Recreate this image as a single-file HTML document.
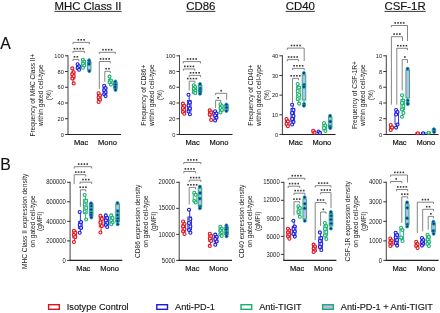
<!DOCTYPE html>
<html><head><meta charset="utf-8"><style>
html,body{margin:0;padding:0;background:#fff;width:440px;height:313px;overflow:hidden}
svg{display:block;will-change:transform}
text{font-family:"Liberation Sans",sans-serif;fill:#1a1a1a} .b{stroke:#111;stroke-width:0.18px;fill:#111}
</style></head><body>
<svg width="440" height="313" viewBox="0 0 440 313">
<text x="88.00" y="9.70" font-size="11.4" text-anchor="middle" class="b" style="stroke-width:0.15px">MHC Class II</text>
<line x1="54.43" y1="11.40" x2="121.57" y2="11.40" stroke="#222" stroke-width="0.9" />
<text x="200.85" y="9.70" font-size="11.4" text-anchor="middle" class="b" style="stroke-width:0.15px">CD86</text>
<line x1="186.28" y1="11.40" x2="215.42" y2="11.40" stroke="#222" stroke-width="0.9" />
<text x="300.25" y="9.70" font-size="11.4" text-anchor="middle" class="b" style="stroke-width:0.15px">CD40</text>
<line x1="285.68" y1="11.40" x2="314.82" y2="11.40" stroke="#222" stroke-width="0.9" />
<text x="405.10" y="9.70" font-size="11.4" text-anchor="middle" class="b" style="stroke-width:0.15px">CSF-1R</text>
<line x1="384.52" y1="11.40" x2="425.68" y2="11.40" stroke="#222" stroke-width="0.9" />
<text x="0.20" y="48.70" font-size="15.8" text-anchor="start" class="b" style="stroke-width:0.15px">A</text>
<text x="0.20" y="169.60" font-size="15.8" text-anchor="start" class="b" style="stroke-width:0.15px">B</text>
<line x1="68.00" y1="55.30" x2="68.00" y2="134.95" stroke="#4a4a4a" stroke-width="1.05" />
<line x1="67.50" y1="134.45" x2="121.00" y2="134.45" stroke="#222" stroke-width="1.1" />
<line x1="65.00" y1="134.45" x2="68.00" y2="134.45" stroke="#333" stroke-width="1.0" />
<text x="63.80" y="136.60" font-size="6.215000000000001" text-anchor="end" textLength="3.14" lengthAdjust="spacingAndGlyphs">0</text>
<line x1="65.00" y1="118.72" x2="68.00" y2="118.72" stroke="#333" stroke-width="1.0" />
<text x="63.80" y="120.87" font-size="6.215000000000001" text-anchor="end" textLength="6.29" lengthAdjust="spacingAndGlyphs">20</text>
<line x1="65.00" y1="102.99" x2="68.00" y2="102.99" stroke="#333" stroke-width="1.0" />
<text x="63.80" y="105.14" font-size="6.215000000000001" text-anchor="end" textLength="6.29" lengthAdjust="spacingAndGlyphs">40</text>
<line x1="65.00" y1="87.26" x2="68.00" y2="87.26" stroke="#333" stroke-width="1.0" />
<text x="63.80" y="89.41" font-size="6.215000000000001" text-anchor="end" textLength="6.29" lengthAdjust="spacingAndGlyphs">60</text>
<line x1="65.00" y1="71.53" x2="68.00" y2="71.53" stroke="#333" stroke-width="1.0" />
<text x="63.80" y="73.68" font-size="6.215000000000001" text-anchor="end" textLength="6.29" lengthAdjust="spacingAndGlyphs">80</text>
<line x1="65.00" y1="55.80" x2="68.00" y2="55.80" stroke="#333" stroke-width="1.0" />
<text x="63.80" y="57.95" font-size="6.215000000000001" text-anchor="end" textLength="9.43" lengthAdjust="spacingAndGlyphs">100</text>
<text x="35.45" y="95.12" font-size="6.6" text-anchor="middle" transform="rotate(-90 35.45 95.12)">Frequency of MHC Class II+</text>
<text x="43.25" y="95.12" font-size="6.6" text-anchor="middle" transform="rotate(-90 43.25 95.12)">within gated cell-type</text>
<text x="51.05" y="95.12" font-size="6.6" text-anchor="middle" transform="rotate(-90 51.05 95.12)">(%)</text>
<text x="81.20" y="145.25" font-size="7.5" text-anchor="middle" class="b">Mac</text>
<text x="107.50" y="145.25" font-size="7.5" text-anchor="middle" class="b">Mono</text>
<line x1="179.50" y1="55.30" x2="179.50" y2="134.95" stroke="#4a4a4a" stroke-width="1.05" />
<line x1="179.00" y1="134.45" x2="232.50" y2="134.45" stroke="#222" stroke-width="1.1" />
<line x1="176.50" y1="134.45" x2="179.50" y2="134.45" stroke="#333" stroke-width="1.0" />
<text x="175.30" y="136.60" font-size="6.215000000000001" text-anchor="end" textLength="3.14" lengthAdjust="spacingAndGlyphs">0</text>
<line x1="176.50" y1="118.72" x2="179.50" y2="118.72" stroke="#333" stroke-width="1.0" />
<text x="175.30" y="120.87" font-size="6.215000000000001" text-anchor="end" textLength="6.29" lengthAdjust="spacingAndGlyphs">20</text>
<line x1="176.50" y1="102.99" x2="179.50" y2="102.99" stroke="#333" stroke-width="1.0" />
<text x="175.30" y="105.14" font-size="6.215000000000001" text-anchor="end" textLength="6.29" lengthAdjust="spacingAndGlyphs">40</text>
<line x1="176.50" y1="87.26" x2="179.50" y2="87.26" stroke="#333" stroke-width="1.0" />
<text x="175.30" y="89.41" font-size="6.215000000000001" text-anchor="end" textLength="6.29" lengthAdjust="spacingAndGlyphs">60</text>
<line x1="176.50" y1="71.53" x2="179.50" y2="71.53" stroke="#333" stroke-width="1.0" />
<text x="175.30" y="73.68" font-size="6.215000000000001" text-anchor="end" textLength="6.29" lengthAdjust="spacingAndGlyphs">80</text>
<line x1="176.50" y1="55.80" x2="179.50" y2="55.80" stroke="#333" stroke-width="1.0" />
<text x="175.30" y="57.95" font-size="6.215000000000001" text-anchor="end" textLength="9.43" lengthAdjust="spacingAndGlyphs">100</text>
<text x="146.40" y="95.12" font-size="6.6" text-anchor="middle" transform="rotate(-90 146.40 95.12)">Frequency of CD86+</text>
<text x="154.20" y="95.12" font-size="6.6" text-anchor="middle" transform="rotate(-90 154.20 95.12)">within gated cell-type</text>
<text x="162.00" y="95.12" font-size="6.6" text-anchor="middle" transform="rotate(-90 162.00 95.12)">(%)</text>
<text x="192.70" y="145.25" font-size="7.5" text-anchor="middle" class="b">Mac</text>
<text x="219.00" y="145.25" font-size="7.5" text-anchor="middle" class="b">Mono</text>
<line x1="282.40" y1="55.30" x2="282.40" y2="134.95" stroke="#4a4a4a" stroke-width="1.05" />
<line x1="281.90" y1="134.45" x2="335.60" y2="134.45" stroke="#222" stroke-width="1.1" />
<line x1="279.40" y1="134.45" x2="282.40" y2="134.45" stroke="#333" stroke-width="1.0" />
<text x="278.20" y="136.60" font-size="6.215000000000001" text-anchor="end" textLength="3.14" lengthAdjust="spacingAndGlyphs">0</text>
<line x1="279.40" y1="114.79" x2="282.40" y2="114.79" stroke="#333" stroke-width="1.0" />
<text x="278.20" y="116.94" font-size="6.215000000000001" text-anchor="end" textLength="6.29" lengthAdjust="spacingAndGlyphs">10</text>
<line x1="279.40" y1="95.12" x2="282.40" y2="95.12" stroke="#333" stroke-width="1.0" />
<text x="278.20" y="97.28" font-size="6.215000000000001" text-anchor="end" textLength="6.29" lengthAdjust="spacingAndGlyphs">20</text>
<line x1="279.40" y1="75.46" x2="282.40" y2="75.46" stroke="#333" stroke-width="1.0" />
<text x="278.20" y="77.61" font-size="6.215000000000001" text-anchor="end" textLength="6.29" lengthAdjust="spacingAndGlyphs">30</text>
<line x1="279.40" y1="55.80" x2="282.40" y2="55.80" stroke="#333" stroke-width="1.0" />
<text x="278.20" y="57.95" font-size="6.215000000000001" text-anchor="end" textLength="6.29" lengthAdjust="spacingAndGlyphs">40</text>
<text x="253.00" y="95.12" font-size="6.6" text-anchor="middle" transform="rotate(-90 253.00 95.12)">Frequency of CD40+</text>
<text x="260.80" y="95.12" font-size="6.6" text-anchor="middle" transform="rotate(-90 260.80 95.12)">within gated cell-type</text>
<text x="268.60" y="95.12" font-size="6.6" text-anchor="middle" transform="rotate(-90 268.60 95.12)">(%)</text>
<text x="295.60" y="145.25" font-size="7.5" text-anchor="middle" class="b">Mac</text>
<text x="321.90" y="145.25" font-size="7.5" text-anchor="middle" class="b">Mono</text>
<line x1="386.30" y1="55.30" x2="386.30" y2="134.95" stroke="#4a4a4a" stroke-width="1.05" />
<line x1="385.80" y1="134.45" x2="438.60" y2="134.45" stroke="#222" stroke-width="1.1" />
<line x1="383.30" y1="134.45" x2="386.30" y2="134.45" stroke="#333" stroke-width="1.0" />
<text x="382.10" y="136.60" font-size="6.215000000000001" text-anchor="end" textLength="3.14" lengthAdjust="spacingAndGlyphs">0</text>
<line x1="383.30" y1="118.72" x2="386.30" y2="118.72" stroke="#333" stroke-width="1.0" />
<text x="382.10" y="120.87" font-size="6.215000000000001" text-anchor="end" textLength="3.14" lengthAdjust="spacingAndGlyphs">2</text>
<line x1="383.30" y1="102.99" x2="386.30" y2="102.99" stroke="#333" stroke-width="1.0" />
<text x="382.10" y="105.14" font-size="6.215000000000001" text-anchor="end" textLength="3.14" lengthAdjust="spacingAndGlyphs">4</text>
<line x1="383.30" y1="87.26" x2="386.30" y2="87.26" stroke="#333" stroke-width="1.0" />
<text x="382.10" y="89.41" font-size="6.215000000000001" text-anchor="end" textLength="3.14" lengthAdjust="spacingAndGlyphs">6</text>
<line x1="383.30" y1="71.53" x2="386.30" y2="71.53" stroke="#333" stroke-width="1.0" />
<text x="382.10" y="73.68" font-size="6.215000000000001" text-anchor="end" textLength="3.14" lengthAdjust="spacingAndGlyphs">8</text>
<line x1="383.30" y1="55.80" x2="386.30" y2="55.80" stroke="#333" stroke-width="1.0" />
<text x="382.10" y="57.95" font-size="6.215000000000001" text-anchor="end" textLength="6.29" lengthAdjust="spacingAndGlyphs">10</text>
<text x="357.30" y="95.12" font-size="6.6" text-anchor="middle" transform="rotate(-90 357.30 95.12)">Frequency of CSF-1R+</text>
<text x="365.10" y="95.12" font-size="6.6" text-anchor="middle" transform="rotate(-90 365.10 95.12)">within gated cell-type</text>
<text x="372.90" y="95.12" font-size="6.6" text-anchor="middle" transform="rotate(-90 372.90 95.12)">(%)</text>
<text x="399.50" y="145.25" font-size="7.5" text-anchor="middle" class="b">Mac</text>
<text x="425.80" y="145.25" font-size="7.5" text-anchor="middle" class="b">Mono</text>
<line x1="70.10" y1="181.80" x2="70.10" y2="260.90" stroke="#4a4a4a" stroke-width="1.05" />
<line x1="69.60" y1="260.40" x2="122.30" y2="260.40" stroke="#222" stroke-width="1.1" />
<line x1="67.10" y1="260.40" x2="70.10" y2="260.40" stroke="#333" stroke-width="1.0" />
<text x="65.90" y="262.55" font-size="6.490000000000001" text-anchor="end" textLength="3.28" lengthAdjust="spacingAndGlyphs">0</text>
<line x1="67.10" y1="240.88" x2="70.10" y2="240.88" stroke="#333" stroke-width="1.0" />
<text x="65.90" y="243.03" font-size="6.490000000000001" text-anchor="end" textLength="19.69" lengthAdjust="spacingAndGlyphs">200000</text>
<line x1="67.10" y1="221.35" x2="70.10" y2="221.35" stroke="#333" stroke-width="1.0" />
<text x="65.90" y="223.50" font-size="6.490000000000001" text-anchor="end" textLength="19.69" lengthAdjust="spacingAndGlyphs">400000</text>
<line x1="67.10" y1="201.82" x2="70.10" y2="201.82" stroke="#333" stroke-width="1.0" />
<text x="65.90" y="203.97" font-size="6.490000000000001" text-anchor="end" textLength="19.69" lengthAdjust="spacingAndGlyphs">600000</text>
<line x1="67.10" y1="182.30" x2="70.10" y2="182.30" stroke="#333" stroke-width="1.0" />
<text x="65.90" y="184.45" font-size="6.490000000000001" text-anchor="end" textLength="19.69" lengthAdjust="spacingAndGlyphs">800000</text>
<text x="26.80" y="221.35" font-size="6.6" text-anchor="middle" transform="rotate(-90 26.80 221.35)">MHC Class II expression density</text>
<text x="34.60" y="221.35" font-size="6.6" text-anchor="middle" transform="rotate(-90 34.60 221.35)">on gated cell-type</text>
<text x="42.40" y="221.35" font-size="6.6" text-anchor="middle" transform="rotate(-90 42.40 221.35)">(gMFI)</text>
<text x="83.30" y="271.20" font-size="7.5" text-anchor="middle" class="b">Mac</text>
<text x="109.60" y="271.20" font-size="7.5" text-anchor="middle" class="b">Mono</text>
<line x1="179.20" y1="181.80" x2="179.20" y2="260.90" stroke="#4a4a4a" stroke-width="1.05" />
<line x1="178.70" y1="260.40" x2="232.00" y2="260.40" stroke="#222" stroke-width="1.1" />
<line x1="176.20" y1="260.40" x2="179.20" y2="260.40" stroke="#333" stroke-width="1.0" />
<text x="175.00" y="262.55" font-size="6.490000000000001" text-anchor="end" textLength="13.13" lengthAdjust="spacingAndGlyphs">5000</text>
<line x1="176.20" y1="234.37" x2="179.20" y2="234.37" stroke="#333" stroke-width="1.0" />
<text x="175.00" y="236.52" font-size="6.490000000000001" text-anchor="end" textLength="16.41" lengthAdjust="spacingAndGlyphs">10000</text>
<line x1="176.20" y1="208.33" x2="179.20" y2="208.33" stroke="#333" stroke-width="1.0" />
<text x="175.00" y="210.48" font-size="6.490000000000001" text-anchor="end" textLength="16.41" lengthAdjust="spacingAndGlyphs">15000</text>
<line x1="176.20" y1="182.30" x2="179.20" y2="182.30" stroke="#333" stroke-width="1.0" />
<text x="175.00" y="184.45" font-size="6.490000000000001" text-anchor="end" textLength="16.41" lengthAdjust="spacingAndGlyphs">20000</text>
<text x="140.00" y="221.35" font-size="6.6" text-anchor="middle" transform="rotate(-90 140.00 221.35)">CD86 expression density</text>
<text x="147.80" y="221.35" font-size="6.6" text-anchor="middle" transform="rotate(-90 147.80 221.35)">on gated cell-type</text>
<text x="155.60" y="221.35" font-size="6.6" text-anchor="middle" transform="rotate(-90 155.60 221.35)">(gMFI)</text>
<text x="192.40" y="271.20" font-size="7.5" text-anchor="middle" class="b">Mac</text>
<text x="218.70" y="271.20" font-size="7.5" text-anchor="middle" class="b">Mono</text>
<line x1="283.90" y1="181.80" x2="283.90" y2="260.90" stroke="#4a4a4a" stroke-width="1.05" />
<line x1="283.40" y1="260.40" x2="336.40" y2="260.40" stroke="#222" stroke-width="1.1" />
<line x1="280.90" y1="254.39" x2="283.90" y2="254.39" stroke="#333" stroke-width="1.0" />
<text x="279.70" y="256.54" font-size="6.490000000000001" text-anchor="end" textLength="13.13" lengthAdjust="spacingAndGlyphs">3000</text>
<line x1="280.90" y1="236.37" x2="283.90" y2="236.37" stroke="#333" stroke-width="1.0" />
<text x="279.70" y="238.52" font-size="6.490000000000001" text-anchor="end" textLength="13.13" lengthAdjust="spacingAndGlyphs">6000</text>
<line x1="280.90" y1="218.35" x2="283.90" y2="218.35" stroke="#333" stroke-width="1.0" />
<text x="279.70" y="220.50" font-size="6.490000000000001" text-anchor="end" textLength="13.13" lengthAdjust="spacingAndGlyphs">9000</text>
<line x1="280.90" y1="200.32" x2="283.90" y2="200.32" stroke="#333" stroke-width="1.0" />
<text x="279.70" y="202.47" font-size="6.490000000000001" text-anchor="end" textLength="16.41" lengthAdjust="spacingAndGlyphs">12000</text>
<line x1="280.90" y1="182.30" x2="283.90" y2="182.30" stroke="#333" stroke-width="1.0" />
<text x="279.70" y="184.45" font-size="6.490000000000001" text-anchor="end" textLength="16.41" lengthAdjust="spacingAndGlyphs">15000</text>
<text x="244.40" y="221.35" font-size="6.6" text-anchor="middle" transform="rotate(-90 244.40 221.35)">CD40 expression density</text>
<text x="252.20" y="221.35" font-size="6.6" text-anchor="middle" transform="rotate(-90 252.20 221.35)">on gated cell-type</text>
<text x="260.00" y="221.35" font-size="6.6" text-anchor="middle" transform="rotate(-90 260.00 221.35)">(gMFI)</text>
<text x="297.10" y="271.20" font-size="7.5" text-anchor="middle" class="b">Mac</text>
<text x="323.40" y="271.20" font-size="7.5" text-anchor="middle" class="b">Mono</text>
<line x1="386.30" y1="181.80" x2="386.30" y2="260.90" stroke="#4a4a4a" stroke-width="1.05" />
<line x1="385.80" y1="260.40" x2="438.60" y2="260.40" stroke="#222" stroke-width="1.1" />
<line x1="383.30" y1="260.40" x2="386.30" y2="260.40" stroke="#333" stroke-width="1.0" />
<text x="382.10" y="262.55" font-size="6.490000000000001" text-anchor="end" textLength="3.28" lengthAdjust="spacingAndGlyphs">0</text>
<line x1="383.30" y1="240.88" x2="386.30" y2="240.88" stroke="#333" stroke-width="1.0" />
<text x="382.10" y="243.03" font-size="6.490000000000001" text-anchor="end" textLength="13.13" lengthAdjust="spacingAndGlyphs">1000</text>
<line x1="383.30" y1="221.35" x2="386.30" y2="221.35" stroke="#333" stroke-width="1.0" />
<text x="382.10" y="223.50" font-size="6.490000000000001" text-anchor="end" textLength="13.13" lengthAdjust="spacingAndGlyphs">2000</text>
<line x1="383.30" y1="201.82" x2="386.30" y2="201.82" stroke="#333" stroke-width="1.0" />
<text x="382.10" y="203.97" font-size="6.490000000000001" text-anchor="end" textLength="13.13" lengthAdjust="spacingAndGlyphs">3000</text>
<line x1="383.30" y1="182.30" x2="386.30" y2="182.30" stroke="#333" stroke-width="1.0" />
<text x="382.10" y="184.45" font-size="6.490000000000001" text-anchor="end" textLength="13.13" lengthAdjust="spacingAndGlyphs">4000</text>
<text x="350.30" y="221.35" font-size="6.6" text-anchor="middle" transform="rotate(-90 350.30 221.35)">CSF-1R expression density</text>
<text x="358.10" y="221.35" font-size="6.6" text-anchor="middle" transform="rotate(-90 358.10 221.35)">on gated cell-type</text>
<text x="365.90" y="221.35" font-size="6.6" text-anchor="middle" transform="rotate(-90 365.90 221.35)">(gMFI)</text>
<text x="399.50" y="271.20" font-size="7.5" text-anchor="middle" class="b">Mac</text>
<text x="425.80" y="271.20" font-size="7.5" text-anchor="middle" class="b">Mono</text>
<line x1="73.00" y1="68.40" x2="73.00" y2="83.40" stroke="#e0121e" stroke-width="0.9" />
<rect x="71.20" y="72.00" width="3.6" height="7.00" fill="white" stroke="#e0121e" stroke-width="0.9"/>
<circle cx="72.30" cy="68.40" r="1.5" fill="white" fill-opacity="0.7" stroke="#e0121e" stroke-width="1.1"/>
<circle cx="73.70" cy="72.30" r="1.5" fill="white" fill-opacity="0.7" stroke="#e0121e" stroke-width="1.1"/>
<circle cx="72.30" cy="74.30" r="1.5" fill="white" fill-opacity="0.7" stroke="#e0121e" stroke-width="1.1"/>
<circle cx="73.70" cy="76.30" r="1.5" fill="white" fill-opacity="0.7" stroke="#e0121e" stroke-width="1.1"/>
<circle cx="72.30" cy="78.50" r="1.5" fill="white" fill-opacity="0.7" stroke="#e0121e" stroke-width="1.1"/>
<circle cx="73.70" cy="83.40" r="1.5" fill="white" fill-opacity="0.7" stroke="#e0121e" stroke-width="1.1"/>
<line x1="78.30" y1="64.30" x2="78.30" y2="69.80" stroke="#1a1ae0" stroke-width="0.9" />
<rect x="76.50" y="65.50" width="3.6" height="3.50" fill="white" stroke="#1a1ae0" stroke-width="0.9"/>
<circle cx="77.60" cy="64.30" r="1.5" fill="white" fill-opacity="0.7" stroke="#1a1ae0" stroke-width="1.1"/>
<circle cx="79.00" cy="66.20" r="1.5" fill="white" fill-opacity="0.7" stroke="#1a1ae0" stroke-width="1.1"/>
<circle cx="77.60" cy="68.00" r="1.5" fill="white" fill-opacity="0.7" stroke="#1a1ae0" stroke-width="1.1"/>
<circle cx="79.00" cy="69.80" r="1.5" fill="white" fill-opacity="0.7" stroke="#1a1ae0" stroke-width="1.1"/>
<line x1="83.60" y1="59.80" x2="83.60" y2="67.80" stroke="#17b06e" stroke-width="0.9" />
<rect x="81.80" y="61.00" width="3.6" height="5.50" fill="white" stroke="#17b06e" stroke-width="0.9"/>
<circle cx="82.90" cy="59.80" r="1.5" fill="white" fill-opacity="0.7" stroke="#17b06e" stroke-width="1.1"/>
<circle cx="84.30" cy="61.60" r="1.5" fill="white" fill-opacity="0.7" stroke="#17b06e" stroke-width="1.1"/>
<circle cx="82.90" cy="63.70" r="1.5" fill="white" fill-opacity="0.7" stroke="#17b06e" stroke-width="1.1"/>
<circle cx="84.30" cy="65.50" r="1.5" fill="white" fill-opacity="0.7" stroke="#17b06e" stroke-width="1.1"/>
<circle cx="82.90" cy="67.80" r="1.5" fill="white" fill-opacity="0.7" stroke="#17b06e" stroke-width="1.1"/>
<line x1="89.20" y1="60.30" x2="89.20" y2="71.10" stroke="#17b06e" stroke-width="0.9" />
<rect x="87.40" y="62.00" width="3.6" height="8.00" fill="#c6b6f4" stroke="#17b06e" stroke-width="0.9"/>
<circle cx="89.09" cy="60.30" r="1.55" fill="#1a1ae0" stroke="#17b06e" stroke-width="0.8"/>
<circle cx="89.31" cy="62.40" r="1.55" fill="#1a1ae0" stroke="#17b06e" stroke-width="0.8"/>
<circle cx="89.09" cy="64.00" r="1.55" fill="#1a1ae0" stroke="#17b06e" stroke-width="0.8"/>
<circle cx="89.31" cy="71.10" r="1.55" fill="#1a1ae0" stroke="#17b06e" stroke-width="0.8"/>
<line x1="99.30" y1="93.30" x2="99.30" y2="102.00" stroke="#e0121e" stroke-width="0.9" />
<rect x="97.50" y="94.50" width="3.6" height="5.50" fill="white" stroke="#e0121e" stroke-width="0.9"/>
<circle cx="98.60" cy="93.30" r="1.5" fill="white" fill-opacity="0.7" stroke="#e0121e" stroke-width="1.1"/>
<circle cx="100.00" cy="95.50" r="1.5" fill="white" fill-opacity="0.7" stroke="#e0121e" stroke-width="1.1"/>
<circle cx="98.60" cy="97.50" r="1.5" fill="white" fill-opacity="0.7" stroke="#e0121e" stroke-width="1.1"/>
<circle cx="100.00" cy="99.50" r="1.5" fill="white" fill-opacity="0.7" stroke="#e0121e" stroke-width="1.1"/>
<circle cx="98.60" cy="102.00" r="1.5" fill="white" fill-opacity="0.7" stroke="#e0121e" stroke-width="1.1"/>
<line x1="104.90" y1="85.70" x2="104.90" y2="96.10" stroke="#1a1ae0" stroke-width="0.9" />
<rect x="103.10" y="87.50" width="3.6" height="6.50" fill="white" stroke="#1a1ae0" stroke-width="0.9"/>
<circle cx="104.20" cy="85.70" r="1.5" fill="white" fill-opacity="0.7" stroke="#1a1ae0" stroke-width="1.1"/>
<circle cx="105.60" cy="88.00" r="1.5" fill="white" fill-opacity="0.7" stroke="#1a1ae0" stroke-width="1.1"/>
<circle cx="104.20" cy="90.20" r="1.5" fill="white" fill-opacity="0.7" stroke="#1a1ae0" stroke-width="1.1"/>
<circle cx="105.60" cy="92.30" r="1.5" fill="white" fill-opacity="0.7" stroke="#1a1ae0" stroke-width="1.1"/>
<circle cx="104.20" cy="94.20" r="1.5" fill="white" fill-opacity="0.7" stroke="#1a1ae0" stroke-width="1.1"/>
<circle cx="105.60" cy="96.10" r="1.5" fill="white" fill-opacity="0.7" stroke="#1a1ae0" stroke-width="1.1"/>
<line x1="110.20" y1="76.60" x2="110.20" y2="84.60" stroke="#17b06e" stroke-width="0.9" />
<rect x="108.40" y="79.50" width="3.6" height="4.00" fill="white" stroke="#17b06e" stroke-width="0.9"/>
<circle cx="109.50" cy="76.60" r="1.5" fill="white" fill-opacity="0.7" stroke="#17b06e" stroke-width="1.1"/>
<circle cx="110.90" cy="80.50" r="1.5" fill="white" fill-opacity="0.7" stroke="#17b06e" stroke-width="1.1"/>
<circle cx="109.50" cy="82.20" r="1.5" fill="white" fill-opacity="0.7" stroke="#17b06e" stroke-width="1.1"/>
<circle cx="110.90" cy="84.60" r="1.5" fill="white" fill-opacity="0.7" stroke="#17b06e" stroke-width="1.1"/>
<line x1="115.40" y1="81.50" x2="115.40" y2="89.90" stroke="#17b06e" stroke-width="0.9" />
<rect x="113.60" y="82.50" width="3.6" height="6.00" fill="#c6b6f4" stroke="#17b06e" stroke-width="0.9"/>
<circle cx="115.30" cy="81.50" r="1.55" fill="#1a1ae0" stroke="#17b06e" stroke-width="0.8"/>
<circle cx="115.51" cy="84.60" r="1.55" fill="#1a1ae0" stroke="#17b06e" stroke-width="0.8"/>
<circle cx="115.30" cy="87.10" r="1.55" fill="#1a1ae0" stroke="#17b06e" stroke-width="0.8"/>
<circle cx="115.51" cy="89.90" r="1.55" fill="#1a1ae0" stroke="#17b06e" stroke-width="0.8"/>
<path d="M73.00 44.20V42.40H89.40V44.20" fill="none" stroke="#666" stroke-width="0.8"/>
<rect x="77.55" y="39.00" width="1.6" height="1.6" fill="#383838"/>
<rect x="80.40" y="39.00" width="1.6" height="1.6" fill="#383838"/>
<rect x="83.25" y="39.00" width="1.6" height="1.6" fill="#383838"/>
<path d="M73.00 53.10V51.30H84.50V53.10" fill="none" stroke="#666" stroke-width="0.8"/>
<rect x="73.67" y="47.90" width="1.6" height="1.6" fill="#383838"/>
<rect x="76.53" y="47.90" width="1.6" height="1.6" fill="#383838"/>
<rect x="79.38" y="47.90" width="1.6" height="1.6" fill="#383838"/>
<rect x="82.23" y="47.90" width="1.6" height="1.6" fill="#383838"/>
<path d="M73.00 61.20V59.40H78.80V61.20" fill="none" stroke="#666" stroke-width="0.8"/>
<rect x="73.68" y="56.00" width="1.6" height="1.6" fill="#383838"/>
<rect x="76.53" y="56.00" width="1.6" height="1.6" fill="#383838"/>
<path d="M99.30 54.10V52.30H115.30V54.10" fill="none" stroke="#666" stroke-width="0.8"/>
<rect x="102.22" y="48.90" width="1.6" height="1.6" fill="#383838"/>
<rect x="105.08" y="48.90" width="1.6" height="1.6" fill="#383838"/>
<rect x="107.92" y="48.90" width="1.6" height="1.6" fill="#383838"/>
<rect x="110.78" y="48.90" width="1.6" height="1.6" fill="#383838"/>
<path d="M99.30 89.00V61.50H110.30V63.30" fill="none" stroke="#666" stroke-width="0.8"/>
<rect x="99.72" y="58.10" width="1.6" height="1.6" fill="#383838"/>
<rect x="102.58" y="58.10" width="1.6" height="1.6" fill="#383838"/>
<rect x="105.42" y="58.10" width="1.6" height="1.6" fill="#383838"/>
<rect x="108.28" y="58.10" width="1.6" height="1.6" fill="#383838"/>
<path d="M104.80 81.80V71.30H110.30V73.10" fill="none" stroke="#666" stroke-width="0.8"/>
<rect x="105.33" y="67.90" width="1.6" height="1.6" fill="#383838"/>
<rect x="108.17" y="67.90" width="1.6" height="1.6" fill="#383838"/>
<line x1="183.60" y1="103.60" x2="183.60" y2="113.80" stroke="#e0121e" stroke-width="0.9" />
<rect x="181.80" y="105.00" width="3.6" height="7.00" fill="white" stroke="#e0121e" stroke-width="0.9"/>
<circle cx="182.90" cy="103.60" r="1.5" fill="white" fill-opacity="0.7" stroke="#e0121e" stroke-width="1.1"/>
<circle cx="184.30" cy="106.00" r="1.5" fill="white" fill-opacity="0.7" stroke="#e0121e" stroke-width="1.1"/>
<circle cx="182.90" cy="108.00" r="1.5" fill="white" fill-opacity="0.7" stroke="#e0121e" stroke-width="1.1"/>
<circle cx="184.30" cy="110.00" r="1.5" fill="white" fill-opacity="0.7" stroke="#e0121e" stroke-width="1.1"/>
<circle cx="182.90" cy="112.00" r="1.5" fill="white" fill-opacity="0.7" stroke="#e0121e" stroke-width="1.1"/>
<circle cx="184.30" cy="113.80" r="1.5" fill="white" fill-opacity="0.7" stroke="#e0121e" stroke-width="1.1"/>
<line x1="189.20" y1="94.80" x2="189.20" y2="114.20" stroke="#1a1ae0" stroke-width="0.9" />
<rect x="187.40" y="100.40" width="3.6" height="10.60" fill="white" stroke="#1a1ae0" stroke-width="0.9"/>
<circle cx="188.50" cy="94.80" r="1.5" fill="white" fill-opacity="0.7" stroke="#1a1ae0" stroke-width="1.1"/>
<circle cx="189.90" cy="102.50" r="1.5" fill="white" fill-opacity="0.7" stroke="#1a1ae0" stroke-width="1.1"/>
<circle cx="188.50" cy="105.50" r="1.5" fill="white" fill-opacity="0.7" stroke="#1a1ae0" stroke-width="1.1"/>
<circle cx="189.90" cy="108.50" r="1.5" fill="white" fill-opacity="0.7" stroke="#1a1ae0" stroke-width="1.1"/>
<circle cx="188.50" cy="111.50" r="1.5" fill="white" fill-opacity="0.7" stroke="#1a1ae0" stroke-width="1.1"/>
<circle cx="189.90" cy="114.20" r="1.5" fill="white" fill-opacity="0.7" stroke="#1a1ae0" stroke-width="1.1"/>
<line x1="194.50" y1="85.20" x2="194.50" y2="93.00" stroke="#17b06e" stroke-width="0.9" />
<rect x="192.70" y="86.50" width="3.6" height="5.00" fill="white" stroke="#17b06e" stroke-width="0.9"/>
<circle cx="193.80" cy="85.20" r="1.5" fill="white" fill-opacity="0.7" stroke="#17b06e" stroke-width="1.1"/>
<circle cx="195.20" cy="87.00" r="1.5" fill="white" fill-opacity="0.7" stroke="#17b06e" stroke-width="1.1"/>
<circle cx="193.80" cy="88.80" r="1.5" fill="white" fill-opacity="0.7" stroke="#17b06e" stroke-width="1.1"/>
<circle cx="195.20" cy="90.60" r="1.5" fill="white" fill-opacity="0.7" stroke="#17b06e" stroke-width="1.1"/>
<circle cx="193.80" cy="92.30" r="1.5" fill="white" fill-opacity="0.7" stroke="#17b06e" stroke-width="1.1"/>
<circle cx="195.20" cy="93.00" r="1.5" fill="white" fill-opacity="0.7" stroke="#17b06e" stroke-width="1.1"/>
<line x1="200.10" y1="84.00" x2="200.10" y2="93.70" stroke="#17b06e" stroke-width="0.9" />
<rect x="198.30" y="85.50" width="3.6" height="6.50" fill="#c6b6f4" stroke="#17b06e" stroke-width="0.9"/>
<circle cx="200.00" cy="84.00" r="1.55" fill="#1a1ae0" stroke="#17b06e" stroke-width="0.8"/>
<circle cx="200.20" cy="88.40" r="1.55" fill="#1a1ae0" stroke="#17b06e" stroke-width="0.8"/>
<circle cx="200.00" cy="90.20" r="1.55" fill="#1a1ae0" stroke="#17b06e" stroke-width="0.8"/>
<circle cx="200.20" cy="92.00" r="1.55" fill="#1a1ae0" stroke="#17b06e" stroke-width="0.8"/>
<circle cx="200.00" cy="93.70" r="1.55" fill="#1a1ae0" stroke="#17b06e" stroke-width="0.8"/>
<line x1="210.40" y1="110.40" x2="210.40" y2="120.00" stroke="#e0121e" stroke-width="0.9" />
<rect x="208.60" y="110.80" width="3.6" height="5.20" fill="white" stroke="#e0121e" stroke-width="0.9"/>
<circle cx="209.70" cy="110.40" r="1.5" fill="white" fill-opacity="0.7" stroke="#e0121e" stroke-width="1.1"/>
<circle cx="211.10" cy="112.50" r="1.5" fill="white" fill-opacity="0.7" stroke="#e0121e" stroke-width="1.1"/>
<circle cx="209.70" cy="114.50" r="1.5" fill="white" fill-opacity="0.7" stroke="#e0121e" stroke-width="1.1"/>
<circle cx="211.10" cy="120.00" r="1.5" fill="white" fill-opacity="0.7" stroke="#e0121e" stroke-width="1.1"/>
<line x1="215.80" y1="111.30" x2="215.80" y2="120.40" stroke="#1a1ae0" stroke-width="0.9" />
<rect x="214.00" y="112.50" width="3.6" height="5.50" fill="white" stroke="#1a1ae0" stroke-width="0.9"/>
<circle cx="215.10" cy="111.30" r="1.5" fill="white" fill-opacity="0.7" stroke="#1a1ae0" stroke-width="1.1"/>
<circle cx="216.50" cy="113.50" r="1.5" fill="white" fill-opacity="0.7" stroke="#1a1ae0" stroke-width="1.1"/>
<circle cx="215.10" cy="115.50" r="1.5" fill="white" fill-opacity="0.7" stroke="#1a1ae0" stroke-width="1.1"/>
<circle cx="216.50" cy="117.80" r="1.5" fill="white" fill-opacity="0.7" stroke="#1a1ae0" stroke-width="1.1"/>
<circle cx="215.10" cy="120.40" r="1.5" fill="white" fill-opacity="0.7" stroke="#1a1ae0" stroke-width="1.1"/>
<line x1="221.20" y1="104.20" x2="221.20" y2="112.50" stroke="#17b06e" stroke-width="0.9" />
<rect x="219.40" y="105.50" width="3.6" height="5.50" fill="white" stroke="#17b06e" stroke-width="0.9"/>
<circle cx="220.50" cy="104.20" r="1.5" fill="white" fill-opacity="0.7" stroke="#17b06e" stroke-width="1.1"/>
<circle cx="221.90" cy="106.00" r="1.5" fill="white" fill-opacity="0.7" stroke="#17b06e" stroke-width="1.1"/>
<circle cx="220.50" cy="108.00" r="1.5" fill="white" fill-opacity="0.7" stroke="#17b06e" stroke-width="1.1"/>
<circle cx="221.90" cy="110.00" r="1.5" fill="white" fill-opacity="0.7" stroke="#17b06e" stroke-width="1.1"/>
<circle cx="220.50" cy="112.50" r="1.5" fill="white" fill-opacity="0.7" stroke="#17b06e" stroke-width="1.1"/>
<line x1="226.50" y1="104.50" x2="226.50" y2="111.00" stroke="#17b06e" stroke-width="0.9" />
<rect x="224.70" y="105.00" width="3.6" height="5.50" fill="#c6b6f4" stroke="#17b06e" stroke-width="0.9"/>
<circle cx="226.40" cy="104.50" r="1.55" fill="#1a1ae0" stroke="#17b06e" stroke-width="0.8"/>
<circle cx="226.60" cy="107.50" r="1.55" fill="#1a1ae0" stroke="#17b06e" stroke-width="0.8"/>
<circle cx="226.40" cy="111.00" r="1.55" fill="#1a1ae0" stroke="#17b06e" stroke-width="0.8"/>
<path d="M183.30 63.40V61.60H200.50V63.40" fill="none" stroke="#666" stroke-width="0.8"/>
<rect x="186.82" y="58.20" width="1.6" height="1.6" fill="#383838"/>
<rect x="189.67" y="58.20" width="1.6" height="1.6" fill="#383838"/>
<rect x="192.53" y="58.20" width="1.6" height="1.6" fill="#383838"/>
<rect x="195.38" y="58.20" width="1.6" height="1.6" fill="#383838"/>
<path d="M183.30 70.80V69.00H194.90V70.80" fill="none" stroke="#666" stroke-width="0.8"/>
<rect x="184.03" y="65.60" width="1.6" height="1.6" fill="#383838"/>
<rect x="186.88" y="65.60" width="1.6" height="1.6" fill="#383838"/>
<rect x="189.73" y="65.60" width="1.6" height="1.6" fill="#383838"/>
<rect x="192.58" y="65.60" width="1.6" height="1.6" fill="#383838"/>
<path d="M189.20 77.20V75.40H200.50V77.20" fill="none" stroke="#666" stroke-width="0.8"/>
<rect x="189.77" y="72.00" width="1.6" height="1.6" fill="#383838"/>
<rect x="192.62" y="72.00" width="1.6" height="1.6" fill="#383838"/>
<rect x="195.47" y="72.00" width="1.6" height="1.6" fill="#383838"/>
<rect x="198.32" y="72.00" width="1.6" height="1.6" fill="#383838"/>
<path d="M189.20 90.60V81.20H194.90V83.00" fill="none" stroke="#666" stroke-width="0.8"/>
<rect x="186.97" y="77.80" width="1.6" height="1.6" fill="#383838"/>
<rect x="189.82" y="77.80" width="1.6" height="1.6" fill="#383838"/>
<rect x="192.68" y="77.80" width="1.6" height="1.6" fill="#383838"/>
<rect x="195.53" y="77.80" width="1.6" height="1.6" fill="#383838"/>
<path d="M215.60 95.10V93.30H226.70V99.80" fill="none" stroke="#666" stroke-width="0.8"/>
<rect x="220.35" y="89.90" width="1.6" height="1.6" fill="#383838"/>
<path d="M215.60 108.00V100.40H220.80V102.20" fill="none" stroke="#666" stroke-width="0.8"/>
<rect x="217.40" y="97.00" width="1.6" height="1.6" fill="#383838"/>
<line x1="287.20" y1="119.00" x2="287.20" y2="126.30" stroke="#e0121e" stroke-width="0.9" />
<rect x="285.40" y="120.00" width="3.6" height="5.00" fill="white" stroke="#e0121e" stroke-width="0.9"/>
<circle cx="286.50" cy="119.00" r="1.5" fill="white" fill-opacity="0.7" stroke="#e0121e" stroke-width="1.1"/>
<circle cx="287.90" cy="121.50" r="1.5" fill="white" fill-opacity="0.7" stroke="#e0121e" stroke-width="1.1"/>
<circle cx="286.50" cy="124.00" r="1.5" fill="white" fill-opacity="0.7" stroke="#e0121e" stroke-width="1.1"/>
<circle cx="287.90" cy="126.30" r="1.5" fill="white" fill-opacity="0.7" stroke="#e0121e" stroke-width="1.1"/>
<line x1="292.80" y1="104.70" x2="292.80" y2="124.50" stroke="#1a1ae0" stroke-width="0.9" />
<rect x="291.00" y="108.50" width="3.6" height="13.50" fill="white" stroke="#1a1ae0" stroke-width="0.9"/>
<circle cx="292.10" cy="104.70" r="1.5" fill="white" fill-opacity="0.7" stroke="#1a1ae0" stroke-width="1.1"/>
<circle cx="293.50" cy="110.00" r="1.5" fill="white" fill-opacity="0.7" stroke="#1a1ae0" stroke-width="1.1"/>
<circle cx="292.10" cy="113.00" r="1.5" fill="white" fill-opacity="0.7" stroke="#1a1ae0" stroke-width="1.1"/>
<circle cx="293.50" cy="116.00" r="1.5" fill="white" fill-opacity="0.7" stroke="#1a1ae0" stroke-width="1.1"/>
<circle cx="292.10" cy="119.00" r="1.5" fill="white" fill-opacity="0.7" stroke="#1a1ae0" stroke-width="1.1"/>
<circle cx="293.50" cy="122.00" r="1.5" fill="white" fill-opacity="0.7" stroke="#1a1ae0" stroke-width="1.1"/>
<circle cx="292.10" cy="124.50" r="1.5" fill="white" fill-opacity="0.7" stroke="#1a1ae0" stroke-width="1.1"/>
<line x1="298.40" y1="84.00" x2="298.40" y2="103.60" stroke="#17b06e" stroke-width="0.9" />
<rect x="296.60" y="86.50" width="3.6" height="13.50" fill="white" stroke="#17b06e" stroke-width="0.9"/>
<circle cx="297.70" cy="84.00" r="1.5" fill="white" fill-opacity="0.7" stroke="#17b06e" stroke-width="1.1"/>
<circle cx="299.10" cy="87.50" r="1.5" fill="white" fill-opacity="0.7" stroke="#17b06e" stroke-width="1.1"/>
<circle cx="297.70" cy="91.00" r="1.5" fill="white" fill-opacity="0.7" stroke="#17b06e" stroke-width="1.1"/>
<circle cx="299.10" cy="95.00" r="1.5" fill="white" fill-opacity="0.7" stroke="#17b06e" stroke-width="1.1"/>
<circle cx="297.70" cy="99.00" r="1.5" fill="white" fill-opacity="0.7" stroke="#17b06e" stroke-width="1.1"/>
<circle cx="299.10" cy="103.60" r="1.5" fill="white" fill-opacity="0.7" stroke="#17b06e" stroke-width="1.1"/>
<line x1="304.00" y1="73.00" x2="304.00" y2="105.70" stroke="#17b06e" stroke-width="0.9" />
<rect x="302.20" y="75.00" width="3.6" height="25.00" fill="#c6b6f4" stroke="#17b06e" stroke-width="0.9"/>
<circle cx="303.89" cy="73.00" r="1.55" fill="#1a1ae0" stroke="#17b06e" stroke-width="0.8"/>
<circle cx="304.11" cy="84.70" r="1.55" fill="#1a1ae0" stroke="#17b06e" stroke-width="0.8"/>
<circle cx="303.89" cy="86.80" r="1.55" fill="#1a1ae0" stroke="#17b06e" stroke-width="0.8"/>
<circle cx="304.11" cy="104.00" r="1.55" fill="#1a1ae0" stroke="#17b06e" stroke-width="0.8"/>
<circle cx="303.89" cy="105.70" r="1.55" fill="#1a1ae0" stroke="#17b06e" stroke-width="0.8"/>
<line x1="313.90" y1="130.80" x2="313.90" y2="132.80" stroke="#e0121e" stroke-width="0.9" />
<rect x="312.10" y="131.00" width="3.6" height="2.00" fill="white" stroke="#e0121e" stroke-width="0.9"/>
<circle cx="313.20" cy="130.80" r="1.5" fill="white" fill-opacity="0.7" stroke="#e0121e" stroke-width="1.1"/>
<circle cx="314.60" cy="132.80" r="1.5" fill="white" fill-opacity="0.7" stroke="#e0121e" stroke-width="1.1"/>
<line x1="319.30" y1="131.50" x2="319.30" y2="133.00" stroke="#1a1ae0" stroke-width="0.9" />
<rect x="317.50" y="131.80" width="3.6" height="1.00" fill="white" stroke="#1a1ae0" stroke-width="0.9"/>
<circle cx="318.60" cy="131.50" r="1.5" fill="white" fill-opacity="0.7" stroke="#1a1ae0" stroke-width="1.1"/>
<circle cx="320.00" cy="133.00" r="1.5" fill="white" fill-opacity="0.7" stroke="#1a1ae0" stroke-width="1.1"/>
<line x1="324.70" y1="123.00" x2="324.70" y2="131.00" stroke="#17b06e" stroke-width="0.9" />
<rect x="322.90" y="124.50" width="3.6" height="5.50" fill="white" stroke="#17b06e" stroke-width="0.9"/>
<circle cx="324.00" cy="123.00" r="1.5" fill="white" fill-opacity="0.7" stroke="#17b06e" stroke-width="1.1"/>
<circle cx="325.40" cy="125.50" r="1.5" fill="white" fill-opacity="0.7" stroke="#17b06e" stroke-width="1.1"/>
<circle cx="324.00" cy="128.00" r="1.5" fill="white" fill-opacity="0.7" stroke="#17b06e" stroke-width="1.1"/>
<circle cx="325.40" cy="131.00" r="1.5" fill="white" fill-opacity="0.7" stroke="#17b06e" stroke-width="1.1"/>
<line x1="330.20" y1="115.80" x2="330.20" y2="128.10" stroke="#17b06e" stroke-width="0.9" />
<rect x="328.40" y="117.00" width="3.6" height="10.00" fill="#c6b6f4" stroke="#17b06e" stroke-width="0.9"/>
<circle cx="330.09" cy="115.80" r="1.55" fill="#1a1ae0" stroke="#17b06e" stroke-width="0.8"/>
<circle cx="330.31" cy="121.50" r="1.55" fill="#1a1ae0" stroke="#17b06e" stroke-width="0.8"/>
<circle cx="330.09" cy="126.50" r="1.55" fill="#1a1ae0" stroke="#17b06e" stroke-width="0.8"/>
<circle cx="330.31" cy="128.10" r="1.55" fill="#1a1ae0" stroke="#17b06e" stroke-width="0.8"/>
<path d="M287.30 49.90V48.10H304.20V61.10" fill="none" stroke="#666" stroke-width="0.8"/>
<rect x="290.68" y="44.70" width="1.6" height="1.6" fill="#383838"/>
<rect x="293.52" y="44.70" width="1.6" height="1.6" fill="#383838"/>
<rect x="296.38" y="44.70" width="1.6" height="1.6" fill="#383838"/>
<rect x="299.22" y="44.70" width="1.6" height="1.6" fill="#383838"/>
<path d="M287.30 61.40V59.60H298.50V61.40" fill="none" stroke="#666" stroke-width="0.8"/>
<rect x="287.82" y="56.20" width="1.6" height="1.6" fill="#383838"/>
<rect x="290.67" y="56.20" width="1.6" height="1.6" fill="#383838"/>
<rect x="293.52" y="56.20" width="1.6" height="1.6" fill="#383838"/>
<rect x="296.37" y="56.20" width="1.6" height="1.6" fill="#383838"/>
<path d="M292.50 70.20V68.40H304.20V70.20" fill="none" stroke="#666" stroke-width="0.8"/>
<rect x="293.28" y="65.00" width="1.6" height="1.6" fill="#383838"/>
<rect x="296.12" y="65.00" width="1.6" height="1.6" fill="#383838"/>
<rect x="298.98" y="65.00" width="1.6" height="1.6" fill="#383838"/>
<rect x="301.82" y="65.00" width="1.6" height="1.6" fill="#383838"/>
<path d="M292.50 103.40V78.40H298.50V80.20" fill="none" stroke="#666" stroke-width="0.8"/>
<rect x="290.43" y="75.00" width="1.6" height="1.6" fill="#383838"/>
<rect x="293.27" y="75.00" width="1.6" height="1.6" fill="#383838"/>
<rect x="296.12" y="75.00" width="1.6" height="1.6" fill="#383838"/>
<rect x="298.97" y="75.00" width="1.6" height="1.6" fill="#383838"/>
<line x1="391.40" y1="125.00" x2="391.40" y2="130.00" stroke="#e0121e" stroke-width="0.9" />
<rect x="389.60" y="126.00" width="3.6" height="3.00" fill="white" stroke="#e0121e" stroke-width="0.9"/>
<circle cx="390.70" cy="125.00" r="1.5" fill="white" fill-opacity="0.7" stroke="#e0121e" stroke-width="1.1"/>
<circle cx="392.10" cy="127.50" r="1.5" fill="white" fill-opacity="0.7" stroke="#e0121e" stroke-width="1.1"/>
<circle cx="390.70" cy="130.00" r="1.5" fill="white" fill-opacity="0.7" stroke="#e0121e" stroke-width="1.1"/>
<line x1="396.80" y1="110.00" x2="396.80" y2="127.60" stroke="#1a1ae0" stroke-width="0.9" />
<rect x="395.00" y="112.00" width="3.6" height="12.00" fill="white" stroke="#1a1ae0" stroke-width="0.9"/>
<circle cx="396.10" cy="110.00" r="1.5" fill="white" fill-opacity="0.7" stroke="#1a1ae0" stroke-width="1.1"/>
<circle cx="397.50" cy="112.00" r="1.5" fill="white" fill-opacity="0.7" stroke="#1a1ae0" stroke-width="1.1"/>
<circle cx="396.10" cy="114.50" r="1.5" fill="white" fill-opacity="0.7" stroke="#1a1ae0" stroke-width="1.1"/>
<circle cx="397.50" cy="124.50" r="1.5" fill="white" fill-opacity="0.7" stroke="#1a1ae0" stroke-width="1.1"/>
<circle cx="396.10" cy="127.60" r="1.5" fill="white" fill-opacity="0.7" stroke="#1a1ae0" stroke-width="1.1"/>
<line x1="402.70" y1="95.30" x2="402.70" y2="116.80" stroke="#17b06e" stroke-width="0.9" />
<rect x="400.90" y="99.50" width="3.6" height="10.50" fill="white" stroke="#17b06e" stroke-width="0.9"/>
<circle cx="402.00" cy="95.30" r="1.5" fill="white" fill-opacity="0.7" stroke="#17b06e" stroke-width="1.1"/>
<circle cx="403.40" cy="100.50" r="1.5" fill="white" fill-opacity="0.7" stroke="#17b06e" stroke-width="1.1"/>
<circle cx="402.00" cy="103.00" r="1.5" fill="white" fill-opacity="0.7" stroke="#17b06e" stroke-width="1.1"/>
<circle cx="403.40" cy="106.00" r="1.5" fill="white" fill-opacity="0.7" stroke="#17b06e" stroke-width="1.1"/>
<circle cx="402.00" cy="109.50" r="1.5" fill="white" fill-opacity="0.7" stroke="#17b06e" stroke-width="1.1"/>
<circle cx="403.40" cy="113.00" r="1.5" fill="white" fill-opacity="0.7" stroke="#17b06e" stroke-width="1.1"/>
<circle cx="402.00" cy="116.80" r="1.5" fill="white" fill-opacity="0.7" stroke="#17b06e" stroke-width="1.1"/>
<line x1="407.70" y1="68.70" x2="407.70" y2="104.00" stroke="#17b06e" stroke-width="0.9" />
<rect x="405.90" y="70.00" width="3.6" height="28.00" fill="#c6b6f4" stroke="#17b06e" stroke-width="0.9"/>
<circle cx="407.59" cy="68.70" r="1.55" fill="#1a1ae0" stroke="#17b06e" stroke-width="0.8"/>
<circle cx="407.81" cy="100.50" r="1.55" fill="#1a1ae0" stroke="#17b06e" stroke-width="0.8"/>
<circle cx="407.59" cy="103.00" r="1.55" fill="#1a1ae0" stroke="#17b06e" stroke-width="0.8"/>
<circle cx="407.81" cy="104.00" r="1.55" fill="#1a1ae0" stroke="#17b06e" stroke-width="0.8"/>
<line x1="417.70" y1="133.20" x2="417.70" y2="133.20" stroke="#e0121e" stroke-width="0.9" />
<rect x="415.90" y="132.60" width="3.6" height="1.00" fill="white" stroke="#e0121e" stroke-width="0.9"/>
<circle cx="417.70" cy="133.20" r="1.5" fill="white" fill-opacity="0.7" stroke="#e0121e" stroke-width="1.1"/>
<line x1="423.20" y1="133.20" x2="423.20" y2="133.20" stroke="#1a1ae0" stroke-width="0.9" />
<rect x="421.40" y="132.60" width="3.6" height="1.00" fill="white" stroke="#1a1ae0" stroke-width="0.9"/>
<circle cx="423.20" cy="133.20" r="1.5" fill="white" fill-opacity="0.7" stroke="#1a1ae0" stroke-width="1.1"/>
<line x1="428.60" y1="132.80" x2="428.60" y2="132.80" stroke="#17b06e" stroke-width="0.9" />
<rect x="426.80" y="132.30" width="3.6" height="1.00" fill="white" stroke="#17b06e" stroke-width="0.9"/>
<circle cx="428.60" cy="132.80" r="1.5" fill="white" fill-opacity="0.7" stroke="#17b06e" stroke-width="1.1"/>
<line x1="434.00" y1="129.20" x2="434.00" y2="132.00" stroke="#17b06e" stroke-width="0.9" />
<rect x="432.20" y="129.80" width="3.6" height="1.80" fill="#c6b6f4" stroke="#17b06e" stroke-width="0.9"/>
<circle cx="433.89" cy="129.20" r="1.55" fill="#1a1ae0" stroke="#17b06e" stroke-width="0.8"/>
<circle cx="434.11" cy="132.00" r="1.55" fill="#1a1ae0" stroke="#17b06e" stroke-width="0.8"/>
<path d="M391.40 27.30V25.50H407.50V41.00" fill="none" stroke="#666" stroke-width="0.8"/>
<rect x="394.38" y="22.10" width="1.6" height="1.6" fill="#383838"/>
<rect x="397.22" y="22.10" width="1.6" height="1.6" fill="#383838"/>
<rect x="400.07" y="22.10" width="1.6" height="1.6" fill="#383838"/>
<rect x="402.92" y="22.10" width="1.6" height="1.6" fill="#383838"/>
<path d="M391.40 104.70V36.70H402.50V41.00" fill="none" stroke="#666" stroke-width="0.8"/>
<rect x="393.30" y="33.30" width="1.6" height="1.6" fill="#383838"/>
<rect x="396.15" y="33.30" width="1.6" height="1.6" fill="#383838"/>
<rect x="399.00" y="33.30" width="1.6" height="1.6" fill="#383838"/>
<path d="M396.80 104.80V48.30H407.50V50.10" fill="none" stroke="#666" stroke-width="0.8"/>
<rect x="397.07" y="44.90" width="1.6" height="1.6" fill="#383838"/>
<rect x="399.92" y="44.90" width="1.6" height="1.6" fill="#383838"/>
<rect x="402.77" y="44.90" width="1.6" height="1.6" fill="#383838"/>
<rect x="405.62" y="44.90" width="1.6" height="1.6" fill="#383838"/>
<path d="M402.20 90.60V59.60H407.50V63.10" fill="none" stroke="#666" stroke-width="0.8"/>
<rect x="404.05" y="56.20" width="1.6" height="1.6" fill="#383838"/>
<line x1="74.60" y1="230.70" x2="74.60" y2="242.00" stroke="#e0121e" stroke-width="0.9" />
<rect x="72.80" y="231.00" width="3.6" height="7.00" fill="white" stroke="#e0121e" stroke-width="0.9"/>
<circle cx="73.90" cy="230.70" r="1.5" fill="white" fill-opacity="0.7" stroke="#e0121e" stroke-width="1.1"/>
<circle cx="75.30" cy="233.00" r="1.5" fill="white" fill-opacity="0.7" stroke="#e0121e" stroke-width="1.1"/>
<circle cx="73.90" cy="235.00" r="1.5" fill="white" fill-opacity="0.7" stroke="#e0121e" stroke-width="1.1"/>
<circle cx="75.30" cy="237.00" r="1.5" fill="white" fill-opacity="0.7" stroke="#e0121e" stroke-width="1.1"/>
<circle cx="73.90" cy="242.00" r="1.5" fill="white" fill-opacity="0.7" stroke="#e0121e" stroke-width="1.1"/>
<line x1="80.40" y1="212.00" x2="80.40" y2="232.70" stroke="#1a1ae0" stroke-width="0.9" />
<rect x="78.60" y="221.60" width="3.6" height="7.00" fill="white" stroke="#1a1ae0" stroke-width="0.9"/>
<circle cx="79.70" cy="212.00" r="1.5" fill="white" fill-opacity="0.7" stroke="#1a1ae0" stroke-width="1.1"/>
<circle cx="81.10" cy="222.00" r="1.5" fill="white" fill-opacity="0.7" stroke="#1a1ae0" stroke-width="1.1"/>
<circle cx="79.70" cy="225.00" r="1.5" fill="white" fill-opacity="0.7" stroke="#1a1ae0" stroke-width="1.1"/>
<circle cx="81.10" cy="228.00" r="1.5" fill="white" fill-opacity="0.7" stroke="#1a1ae0" stroke-width="1.1"/>
<circle cx="79.70" cy="232.70" r="1.5" fill="white" fill-opacity="0.7" stroke="#1a1ae0" stroke-width="1.1"/>
<line x1="85.40" y1="195.00" x2="85.40" y2="219.50" stroke="#17b06e" stroke-width="0.9" />
<rect x="83.60" y="199.20" width="3.6" height="14.50" fill="white" stroke="#17b06e" stroke-width="0.9"/>
<circle cx="84.70" cy="195.00" r="1.5" fill="white" fill-opacity="0.7" stroke="#17b06e" stroke-width="1.1"/>
<circle cx="86.10" cy="201.00" r="1.5" fill="white" fill-opacity="0.7" stroke="#17b06e" stroke-width="1.1"/>
<circle cx="84.70" cy="204.50" r="1.5" fill="white" fill-opacity="0.7" stroke="#17b06e" stroke-width="1.1"/>
<circle cx="86.10" cy="208.00" r="1.5" fill="white" fill-opacity="0.7" stroke="#17b06e" stroke-width="1.1"/>
<circle cx="84.70" cy="211.50" r="1.5" fill="white" fill-opacity="0.7" stroke="#17b06e" stroke-width="1.1"/>
<circle cx="86.10" cy="219.50" r="1.5" fill="white" fill-opacity="0.7" stroke="#17b06e" stroke-width="1.1"/>
<line x1="91.20" y1="203.30" x2="91.20" y2="217.40" stroke="#17b06e" stroke-width="0.9" />
<rect x="89.40" y="204.00" width="3.6" height="12.00" fill="#c6b6f4" stroke="#17b06e" stroke-width="0.9"/>
<circle cx="91.09" cy="203.30" r="1.55" fill="#1a1ae0" stroke="#17b06e" stroke-width="0.8"/>
<circle cx="91.31" cy="206.00" r="1.55" fill="#1a1ae0" stroke="#17b06e" stroke-width="0.8"/>
<circle cx="91.09" cy="209.50" r="1.55" fill="#1a1ae0" stroke="#17b06e" stroke-width="0.8"/>
<circle cx="91.31" cy="213.00" r="1.55" fill="#1a1ae0" stroke="#17b06e" stroke-width="0.8"/>
<circle cx="91.09" cy="215.00" r="1.55" fill="#1a1ae0" stroke="#17b06e" stroke-width="0.8"/>
<circle cx="91.31" cy="217.40" r="1.55" fill="#1a1ae0" stroke="#17b06e" stroke-width="0.8"/>
<line x1="101.10" y1="215.80" x2="101.10" y2="232.50" stroke="#e0121e" stroke-width="0.9" />
<rect x="99.30" y="216.50" width="3.6" height="10.50" fill="white" stroke="#e0121e" stroke-width="0.9"/>
<circle cx="100.40" cy="215.80" r="1.5" fill="white" fill-opacity="0.7" stroke="#e0121e" stroke-width="1.1"/>
<circle cx="101.80" cy="219.00" r="1.5" fill="white" fill-opacity="0.7" stroke="#e0121e" stroke-width="1.1"/>
<circle cx="100.40" cy="222.50" r="1.5" fill="white" fill-opacity="0.7" stroke="#e0121e" stroke-width="1.1"/>
<circle cx="101.80" cy="226.00" r="1.5" fill="white" fill-opacity="0.7" stroke="#e0121e" stroke-width="1.1"/>
<circle cx="100.40" cy="232.50" r="1.5" fill="white" fill-opacity="0.7" stroke="#e0121e" stroke-width="1.1"/>
<line x1="106.50" y1="215.40" x2="106.50" y2="227.00" stroke="#1a1ae0" stroke-width="0.9" />
<rect x="104.70" y="217.00" width="3.6" height="8.00" fill="white" stroke="#1a1ae0" stroke-width="0.9"/>
<circle cx="105.80" cy="215.40" r="1.5" fill="white" fill-opacity="0.7" stroke="#1a1ae0" stroke-width="1.1"/>
<circle cx="107.20" cy="218.00" r="1.5" fill="white" fill-opacity="0.7" stroke="#1a1ae0" stroke-width="1.1"/>
<circle cx="105.80" cy="220.50" r="1.5" fill="white" fill-opacity="0.7" stroke="#1a1ae0" stroke-width="1.1"/>
<circle cx="107.20" cy="223.00" r="1.5" fill="white" fill-opacity="0.7" stroke="#1a1ae0" stroke-width="1.1"/>
<circle cx="105.80" cy="225.00" r="1.5" fill="white" fill-opacity="0.7" stroke="#1a1ae0" stroke-width="1.1"/>
<circle cx="107.20" cy="227.00" r="1.5" fill="white" fill-opacity="0.7" stroke="#1a1ae0" stroke-width="1.1"/>
<line x1="111.90" y1="215.40" x2="111.90" y2="224.20" stroke="#17b06e" stroke-width="0.9" />
<rect x="110.10" y="217.00" width="3.6" height="6.00" fill="white" stroke="#17b06e" stroke-width="0.9"/>
<circle cx="111.20" cy="215.40" r="1.5" fill="white" fill-opacity="0.7" stroke="#17b06e" stroke-width="1.1"/>
<circle cx="112.60" cy="218.00" r="1.5" fill="white" fill-opacity="0.7" stroke="#17b06e" stroke-width="1.1"/>
<circle cx="111.20" cy="220.50" r="1.5" fill="white" fill-opacity="0.7" stroke="#17b06e" stroke-width="1.1"/>
<circle cx="112.60" cy="222.50" r="1.5" fill="white" fill-opacity="0.7" stroke="#17b06e" stroke-width="1.1"/>
<circle cx="111.20" cy="224.20" r="1.5" fill="white" fill-opacity="0.7" stroke="#17b06e" stroke-width="1.1"/>
<line x1="117.60" y1="203.00" x2="117.60" y2="224.20" stroke="#17b06e" stroke-width="0.9" />
<rect x="115.80" y="204.00" width="3.6" height="18.00" fill="#c6b6f4" stroke="#17b06e" stroke-width="0.9"/>
<circle cx="117.49" cy="203.00" r="1.55" fill="#1a1ae0" stroke="#17b06e" stroke-width="0.8"/>
<circle cx="117.70" cy="211.00" r="1.55" fill="#1a1ae0" stroke="#17b06e" stroke-width="0.8"/>
<circle cx="117.49" cy="215.00" r="1.55" fill="#1a1ae0" stroke="#17b06e" stroke-width="0.8"/>
<circle cx="117.70" cy="218.50" r="1.55" fill="#1a1ae0" stroke="#17b06e" stroke-width="0.8"/>
<circle cx="117.49" cy="221.00" r="1.55" fill="#1a1ae0" stroke="#17b06e" stroke-width="0.8"/>
<circle cx="117.70" cy="224.20" r="1.55" fill="#1a1ae0" stroke="#17b06e" stroke-width="0.8"/>
<path d="M74.20 168.50V166.70H91.70V168.50" fill="none" stroke="#666" stroke-width="0.8"/>
<rect x="77.88" y="163.30" width="1.6" height="1.6" fill="#383838"/>
<rect x="80.73" y="163.30" width="1.6" height="1.6" fill="#383838"/>
<rect x="83.58" y="163.30" width="1.6" height="1.6" fill="#383838"/>
<rect x="86.43" y="163.30" width="1.6" height="1.6" fill="#383838"/>
<path d="M74.20 184.00V174.70H85.80V176.50" fill="none" stroke="#666" stroke-width="0.8"/>
<rect x="74.92" y="171.30" width="1.6" height="1.6" fill="#383838"/>
<rect x="77.78" y="171.30" width="1.6" height="1.6" fill="#383838"/>
<rect x="80.62" y="171.30" width="1.6" height="1.6" fill="#383838"/>
<rect x="83.48" y="171.30" width="1.6" height="1.6" fill="#383838"/>
<path d="M80.00 184.00V182.20H91.70V184.00" fill="none" stroke="#666" stroke-width="0.8"/>
<rect x="82.20" y="178.80" width="1.6" height="1.6" fill="#383838"/>
<rect x="85.05" y="178.80" width="1.6" height="1.6" fill="#383838"/>
<rect x="87.90" y="178.80" width="1.6" height="1.6" fill="#383838"/>
<path d="M80.40 206.80V189.80H85.80V191.60" fill="none" stroke="#666" stroke-width="0.8"/>
<rect x="79.45" y="186.40" width="1.6" height="1.6" fill="#383838"/>
<rect x="82.30" y="186.40" width="1.6" height="1.6" fill="#383838"/>
<rect x="85.15" y="186.40" width="1.6" height="1.6" fill="#383838"/>
<line x1="183.80" y1="221.50" x2="183.80" y2="234.00" stroke="#e0121e" stroke-width="0.9" />
<rect x="182.00" y="224.25" width="3.6" height="7.00" fill="white" stroke="#e0121e" stroke-width="0.9"/>
<circle cx="183.10" cy="221.50" r="1.5" fill="white" fill-opacity="0.7" stroke="#e0121e" stroke-width="1.1"/>
<circle cx="184.50" cy="224.00" r="1.5" fill="white" fill-opacity="0.7" stroke="#e0121e" stroke-width="1.1"/>
<circle cx="183.10" cy="226.50" r="1.5" fill="white" fill-opacity="0.7" stroke="#e0121e" stroke-width="1.1"/>
<circle cx="184.50" cy="229.00" r="1.5" fill="white" fill-opacity="0.7" stroke="#e0121e" stroke-width="1.1"/>
<circle cx="183.10" cy="231.50" r="1.5" fill="white" fill-opacity="0.7" stroke="#e0121e" stroke-width="1.1"/>
<circle cx="184.50" cy="234.00" r="1.5" fill="white" fill-opacity="0.7" stroke="#e0121e" stroke-width="1.1"/>
<line x1="189.70" y1="209.80" x2="189.70" y2="232.80" stroke="#1a1ae0" stroke-width="0.9" />
<rect x="187.90" y="217.00" width="3.6" height="13.00" fill="white" stroke="#1a1ae0" stroke-width="0.9"/>
<circle cx="189.00" cy="209.80" r="1.5" fill="white" fill-opacity="0.7" stroke="#1a1ae0" stroke-width="1.1"/>
<circle cx="190.40" cy="219.00" r="1.5" fill="white" fill-opacity="0.7" stroke="#1a1ae0" stroke-width="1.1"/>
<circle cx="189.00" cy="223.00" r="1.5" fill="white" fill-opacity="0.7" stroke="#1a1ae0" stroke-width="1.1"/>
<circle cx="190.40" cy="226.50" r="1.5" fill="white" fill-opacity="0.7" stroke="#1a1ae0" stroke-width="1.1"/>
<circle cx="189.00" cy="230.00" r="1.5" fill="white" fill-opacity="0.7" stroke="#1a1ae0" stroke-width="1.1"/>
<circle cx="190.40" cy="232.80" r="1.5" fill="white" fill-opacity="0.7" stroke="#1a1ae0" stroke-width="1.1"/>
<line x1="195.00" y1="192.80" x2="195.00" y2="202.40" stroke="#17b06e" stroke-width="0.9" />
<rect x="193.20" y="194.00" width="3.6" height="7.50" fill="white" stroke="#17b06e" stroke-width="0.9"/>
<circle cx="194.30" cy="192.80" r="1.5" fill="white" fill-opacity="0.7" stroke="#17b06e" stroke-width="1.1"/>
<circle cx="195.70" cy="194.80" r="1.5" fill="white" fill-opacity="0.7" stroke="#17b06e" stroke-width="1.1"/>
<circle cx="194.30" cy="201.00" r="1.5" fill="white" fill-opacity="0.7" stroke="#17b06e" stroke-width="1.1"/>
<circle cx="195.70" cy="202.40" r="1.5" fill="white" fill-opacity="0.7" stroke="#17b06e" stroke-width="1.1"/>
<line x1="200.00" y1="186.60" x2="200.00" y2="208.20" stroke="#17b06e" stroke-width="0.9" />
<rect x="198.20" y="188.00" width="3.6" height="18.00" fill="#c6b6f4" stroke="#17b06e" stroke-width="0.9"/>
<circle cx="199.90" cy="186.60" r="1.55" fill="#1a1ae0" stroke="#17b06e" stroke-width="0.8"/>
<circle cx="200.10" cy="193.00" r="1.55" fill="#1a1ae0" stroke="#17b06e" stroke-width="0.8"/>
<circle cx="199.90" cy="198.60" r="1.55" fill="#1a1ae0" stroke="#17b06e" stroke-width="0.8"/>
<circle cx="200.10" cy="206.50" r="1.55" fill="#1a1ae0" stroke="#17b06e" stroke-width="0.8"/>
<circle cx="199.90" cy="208.20" r="1.55" fill="#1a1ae0" stroke="#17b06e" stroke-width="0.8"/>
<line x1="210.50" y1="233.80" x2="210.50" y2="245.90" stroke="#e0121e" stroke-width="0.9" />
<rect x="208.70" y="235.00" width="3.6" height="6.50" fill="white" stroke="#e0121e" stroke-width="0.9"/>
<circle cx="209.80" cy="233.80" r="1.5" fill="white" fill-opacity="0.7" stroke="#e0121e" stroke-width="1.1"/>
<circle cx="211.20" cy="236.00" r="1.5" fill="white" fill-opacity="0.7" stroke="#e0121e" stroke-width="1.1"/>
<circle cx="209.80" cy="238.50" r="1.5" fill="white" fill-opacity="0.7" stroke="#e0121e" stroke-width="1.1"/>
<circle cx="211.20" cy="241.00" r="1.5" fill="white" fill-opacity="0.7" stroke="#e0121e" stroke-width="1.1"/>
<circle cx="209.80" cy="245.90" r="1.5" fill="white" fill-opacity="0.7" stroke="#e0121e" stroke-width="1.1"/>
<line x1="216.00" y1="234.60" x2="216.00" y2="244.70" stroke="#1a1ae0" stroke-width="0.9" />
<rect x="214.20" y="236.00" width="3.6" height="6.00" fill="white" stroke="#1a1ae0" stroke-width="0.9"/>
<circle cx="215.30" cy="234.60" r="1.5" fill="white" fill-opacity="0.7" stroke="#1a1ae0" stroke-width="1.1"/>
<circle cx="216.70" cy="237.00" r="1.5" fill="white" fill-opacity="0.7" stroke="#1a1ae0" stroke-width="1.1"/>
<circle cx="215.30" cy="239.00" r="1.5" fill="white" fill-opacity="0.7" stroke="#1a1ae0" stroke-width="1.1"/>
<circle cx="216.70" cy="241.50" r="1.5" fill="white" fill-opacity="0.7" stroke="#1a1ae0" stroke-width="1.1"/>
<circle cx="215.30" cy="244.70" r="1.5" fill="white" fill-opacity="0.7" stroke="#1a1ae0" stroke-width="1.1"/>
<line x1="221.00" y1="226.70" x2="221.00" y2="235.90" stroke="#17b06e" stroke-width="0.9" />
<rect x="219.20" y="228.00" width="3.6" height="6.00" fill="white" stroke="#17b06e" stroke-width="0.9"/>
<circle cx="220.30" cy="226.70" r="1.5" fill="white" fill-opacity="0.7" stroke="#17b06e" stroke-width="1.1"/>
<circle cx="221.70" cy="228.50" r="1.5" fill="white" fill-opacity="0.7" stroke="#17b06e" stroke-width="1.1"/>
<circle cx="220.30" cy="230.50" r="1.5" fill="white" fill-opacity="0.7" stroke="#17b06e" stroke-width="1.1"/>
<circle cx="221.70" cy="232.50" r="1.5" fill="white" fill-opacity="0.7" stroke="#17b06e" stroke-width="1.1"/>
<circle cx="220.30" cy="234.50" r="1.5" fill="white" fill-opacity="0.7" stroke="#17b06e" stroke-width="1.1"/>
<circle cx="221.70" cy="235.90" r="1.5" fill="white" fill-opacity="0.7" stroke="#17b06e" stroke-width="1.1"/>
<line x1="226.50" y1="225.40" x2="226.50" y2="236.30" stroke="#17b06e" stroke-width="0.9" />
<rect x="224.70" y="227.00" width="3.6" height="7.50" fill="#c6b6f4" stroke="#17b06e" stroke-width="0.9"/>
<circle cx="226.40" cy="225.40" r="1.55" fill="#1a1ae0" stroke="#17b06e" stroke-width="0.8"/>
<circle cx="226.60" cy="227.50" r="1.55" fill="#1a1ae0" stroke="#17b06e" stroke-width="0.8"/>
<circle cx="226.40" cy="229.50" r="1.55" fill="#1a1ae0" stroke="#17b06e" stroke-width="0.8"/>
<circle cx="226.60" cy="232.50" r="1.55" fill="#1a1ae0" stroke="#17b06e" stroke-width="0.8"/>
<circle cx="226.40" cy="234.50" r="1.55" fill="#1a1ae0" stroke="#17b06e" stroke-width="0.8"/>
<circle cx="226.60" cy="236.30" r="1.55" fill="#1a1ae0" stroke="#17b06e" stroke-width="0.8"/>
<path d="M183.80 164.30V162.50H200.90V164.30" fill="none" stroke="#666" stroke-width="0.8"/>
<rect x="187.28" y="159.10" width="1.6" height="1.6" fill="#383838"/>
<rect x="190.12" y="159.10" width="1.6" height="1.6" fill="#383838"/>
<rect x="192.98" y="159.10" width="1.6" height="1.6" fill="#383838"/>
<rect x="195.83" y="159.10" width="1.6" height="1.6" fill="#383838"/>
<path d="M183.80 173.30V171.50H195.50V173.30" fill="none" stroke="#666" stroke-width="0.8"/>
<rect x="184.57" y="168.10" width="1.6" height="1.6" fill="#383838"/>
<rect x="187.42" y="168.10" width="1.6" height="1.6" fill="#383838"/>
<rect x="190.28" y="168.10" width="1.6" height="1.6" fill="#383838"/>
<rect x="193.12" y="168.10" width="1.6" height="1.6" fill="#383838"/>
<path d="M189.20 182.00V180.20H200.90V182.00" fill="none" stroke="#666" stroke-width="0.8"/>
<rect x="189.97" y="176.80" width="1.6" height="1.6" fill="#383838"/>
<rect x="192.82" y="176.80" width="1.6" height="1.6" fill="#383838"/>
<rect x="195.68" y="176.80" width="1.6" height="1.6" fill="#383838"/>
<rect x="198.53" y="176.80" width="1.6" height="1.6" fill="#383838"/>
<path d="M189.20 204.40V187.40H195.50V189.20" fill="none" stroke="#666" stroke-width="0.8"/>
<rect x="187.27" y="184.00" width="1.6" height="1.6" fill="#383838"/>
<rect x="190.12" y="184.00" width="1.6" height="1.6" fill="#383838"/>
<rect x="192.97" y="184.00" width="1.6" height="1.6" fill="#383838"/>
<rect x="195.82" y="184.00" width="1.6" height="1.6" fill="#383838"/>
<line x1="288.70" y1="228.70" x2="288.70" y2="238.70" stroke="#e0121e" stroke-width="0.9" />
<rect x="286.90" y="230.90" width="3.6" height="5.60" fill="white" stroke="#e0121e" stroke-width="0.9"/>
<circle cx="288.00" cy="228.70" r="1.5" fill="white" fill-opacity="0.7" stroke="#e0121e" stroke-width="1.1"/>
<circle cx="289.40" cy="230.50" r="1.5" fill="white" fill-opacity="0.7" stroke="#e0121e" stroke-width="1.1"/>
<circle cx="288.00" cy="232.50" r="1.5" fill="white" fill-opacity="0.7" stroke="#e0121e" stroke-width="1.1"/>
<circle cx="289.40" cy="234.50" r="1.5" fill="white" fill-opacity="0.7" stroke="#e0121e" stroke-width="1.1"/>
<circle cx="288.00" cy="236.50" r="1.5" fill="white" fill-opacity="0.7" stroke="#e0121e" stroke-width="1.1"/>
<circle cx="289.40" cy="238.70" r="1.5" fill="white" fill-opacity="0.7" stroke="#e0121e" stroke-width="1.1"/>
<line x1="294.10" y1="220.80" x2="294.10" y2="236.60" stroke="#1a1ae0" stroke-width="0.9" />
<rect x="292.30" y="226.20" width="3.6" height="8.80" fill="white" stroke="#1a1ae0" stroke-width="0.9"/>
<circle cx="293.40" cy="220.80" r="1.5" fill="white" fill-opacity="0.7" stroke="#1a1ae0" stroke-width="1.1"/>
<circle cx="294.80" cy="226.50" r="1.5" fill="white" fill-opacity="0.7" stroke="#1a1ae0" stroke-width="1.1"/>
<circle cx="293.40" cy="229.00" r="1.5" fill="white" fill-opacity="0.7" stroke="#1a1ae0" stroke-width="1.1"/>
<circle cx="294.80" cy="231.50" r="1.5" fill="white" fill-opacity="0.7" stroke="#1a1ae0" stroke-width="1.1"/>
<circle cx="293.40" cy="234.00" r="1.5" fill="white" fill-opacity="0.7" stroke="#1a1ae0" stroke-width="1.1"/>
<circle cx="294.80" cy="236.60" r="1.5" fill="white" fill-opacity="0.7" stroke="#1a1ae0" stroke-width="1.1"/>
<line x1="299.10" y1="206.20" x2="299.10" y2="216.70" stroke="#17b06e" stroke-width="0.9" />
<rect x="297.30" y="207.50" width="3.6" height="6.50" fill="white" stroke="#17b06e" stroke-width="0.9"/>
<circle cx="298.40" cy="206.20" r="1.5" fill="white" fill-opacity="0.7" stroke="#17b06e" stroke-width="1.1"/>
<circle cx="299.80" cy="208.00" r="1.5" fill="white" fill-opacity="0.7" stroke="#17b06e" stroke-width="1.1"/>
<circle cx="298.40" cy="212.00" r="1.5" fill="white" fill-opacity="0.7" stroke="#17b06e" stroke-width="1.1"/>
<circle cx="299.80" cy="216.70" r="1.5" fill="white" fill-opacity="0.7" stroke="#17b06e" stroke-width="1.1"/>
<line x1="304.70" y1="197.20" x2="304.70" y2="220.80" stroke="#17b06e" stroke-width="0.9" />
<rect x="302.90" y="199.00" width="3.6" height="20.00" fill="#c6b6f4" stroke="#17b06e" stroke-width="0.9"/>
<circle cx="304.59" cy="197.20" r="1.55" fill="#1a1ae0" stroke="#17b06e" stroke-width="0.8"/>
<circle cx="304.81" cy="203.70" r="1.55" fill="#1a1ae0" stroke="#17b06e" stroke-width="0.8"/>
<circle cx="304.59" cy="208.30" r="1.55" fill="#1a1ae0" stroke="#17b06e" stroke-width="0.8"/>
<circle cx="304.81" cy="220.80" r="1.55" fill="#1a1ae0" stroke="#17b06e" stroke-width="0.8"/>
<line x1="314.30" y1="244.60" x2="314.30" y2="252.00" stroke="#e0121e" stroke-width="0.9" />
<rect x="312.50" y="246.23" width="3.6" height="4.14" fill="white" stroke="#e0121e" stroke-width="0.9"/>
<circle cx="313.60" cy="244.60" r="1.5" fill="white" fill-opacity="0.7" stroke="#e0121e" stroke-width="1.1"/>
<circle cx="315.00" cy="246.50" r="1.5" fill="white" fill-opacity="0.7" stroke="#e0121e" stroke-width="1.1"/>
<circle cx="313.60" cy="248.50" r="1.5" fill="white" fill-opacity="0.7" stroke="#e0121e" stroke-width="1.1"/>
<circle cx="315.00" cy="250.50" r="1.5" fill="white" fill-opacity="0.7" stroke="#e0121e" stroke-width="1.1"/>
<circle cx="313.60" cy="252.00" r="1.5" fill="white" fill-opacity="0.7" stroke="#e0121e" stroke-width="1.1"/>
<line x1="320.60" y1="232.40" x2="320.60" y2="250.00" stroke="#1a1ae0" stroke-width="0.9" />
<rect x="318.80" y="237.00" width="3.6" height="11.00" fill="white" stroke="#1a1ae0" stroke-width="0.9"/>
<circle cx="319.90" cy="232.40" r="1.5" fill="white" fill-opacity="0.7" stroke="#1a1ae0" stroke-width="1.1"/>
<circle cx="321.30" cy="238.00" r="1.5" fill="white" fill-opacity="0.7" stroke="#1a1ae0" stroke-width="1.1"/>
<circle cx="319.90" cy="241.00" r="1.5" fill="white" fill-opacity="0.7" stroke="#1a1ae0" stroke-width="1.1"/>
<circle cx="321.30" cy="244.00" r="1.5" fill="white" fill-opacity="0.7" stroke="#1a1ae0" stroke-width="1.1"/>
<circle cx="319.90" cy="247.00" r="1.5" fill="white" fill-opacity="0.7" stroke="#1a1ae0" stroke-width="1.1"/>
<circle cx="321.30" cy="250.00" r="1.5" fill="white" fill-opacity="0.7" stroke="#1a1ae0" stroke-width="1.1"/>
<line x1="325.60" y1="223.00" x2="325.60" y2="239.00" stroke="#17b06e" stroke-width="0.9" />
<rect x="323.80" y="225.50" width="3.6" height="10.50" fill="white" stroke="#17b06e" stroke-width="0.9"/>
<circle cx="324.90" cy="223.00" r="1.5" fill="white" fill-opacity="0.7" stroke="#17b06e" stroke-width="1.1"/>
<circle cx="326.30" cy="226.00" r="1.5" fill="white" fill-opacity="0.7" stroke="#17b06e" stroke-width="1.1"/>
<circle cx="324.90" cy="229.00" r="1.5" fill="white" fill-opacity="0.7" stroke="#17b06e" stroke-width="1.1"/>
<circle cx="326.30" cy="232.00" r="1.5" fill="white" fill-opacity="0.7" stroke="#17b06e" stroke-width="1.1"/>
<circle cx="324.90" cy="235.50" r="1.5" fill="white" fill-opacity="0.7" stroke="#17b06e" stroke-width="1.1"/>
<circle cx="326.30" cy="239.00" r="1.5" fill="white" fill-opacity="0.7" stroke="#17b06e" stroke-width="1.1"/>
<line x1="331.00" y1="212.00" x2="331.00" y2="228.50" stroke="#17b06e" stroke-width="0.9" />
<rect x="329.20" y="213.50" width="3.6" height="12.50" fill="#c6b6f4" stroke="#17b06e" stroke-width="0.9"/>
<circle cx="330.89" cy="212.00" r="1.55" fill="#1a1ae0" stroke="#17b06e" stroke-width="0.8"/>
<circle cx="331.11" cy="215.80" r="1.55" fill="#1a1ae0" stroke="#17b06e" stroke-width="0.8"/>
<circle cx="330.89" cy="219.50" r="1.55" fill="#1a1ae0" stroke="#17b06e" stroke-width="0.8"/>
<circle cx="331.11" cy="223.50" r="1.55" fill="#1a1ae0" stroke="#17b06e" stroke-width="0.8"/>
<circle cx="330.89" cy="228.50" r="1.55" fill="#1a1ae0" stroke="#17b06e" stroke-width="0.8"/>
<path d="M288.20 180.10V178.30H304.90V180.10" fill="none" stroke="#666" stroke-width="0.8"/>
<rect x="291.47" y="174.90" width="1.6" height="1.6" fill="#383838"/>
<rect x="294.32" y="174.90" width="1.6" height="1.6" fill="#383838"/>
<rect x="297.17" y="174.90" width="1.6" height="1.6" fill="#383838"/>
<rect x="300.02" y="174.90" width="1.6" height="1.6" fill="#383838"/>
<path d="M288.20 188.00V186.20H299.70V188.00" fill="none" stroke="#666" stroke-width="0.8"/>
<rect x="288.88" y="182.80" width="1.6" height="1.6" fill="#383838"/>
<rect x="291.72" y="182.80" width="1.6" height="1.6" fill="#383838"/>
<rect x="294.57" y="182.80" width="1.6" height="1.6" fill="#383838"/>
<rect x="297.42" y="182.80" width="1.6" height="1.6" fill="#383838"/>
<path d="M294.00 195.00V193.20H304.90V195.00" fill="none" stroke="#666" stroke-width="0.8"/>
<rect x="294.38" y="189.80" width="1.6" height="1.6" fill="#383838"/>
<rect x="297.22" y="189.80" width="1.6" height="1.6" fill="#383838"/>
<rect x="300.07" y="189.80" width="1.6" height="1.6" fill="#383838"/>
<rect x="302.92" y="189.80" width="1.6" height="1.6" fill="#383838"/>
<path d="M294.00 215.40V201.70H299.70V203.50" fill="none" stroke="#666" stroke-width="0.8"/>
<rect x="293.20" y="198.30" width="1.6" height="1.6" fill="#383838"/>
<rect x="296.05" y="198.30" width="1.6" height="1.6" fill="#383838"/>
<rect x="298.90" y="198.30" width="1.6" height="1.6" fill="#383838"/>
<path d="M315.20 187.50V185.70H331.00V187.50" fill="none" stroke="#666" stroke-width="0.8"/>
<rect x="318.03" y="182.30" width="1.6" height="1.6" fill="#383838"/>
<rect x="320.88" y="182.30" width="1.6" height="1.6" fill="#383838"/>
<rect x="323.73" y="182.30" width="1.6" height="1.6" fill="#383838"/>
<rect x="326.57" y="182.30" width="1.6" height="1.6" fill="#383838"/>
<path d="M320.60 194.40V192.60H331.00V208.10" fill="none" stroke="#666" stroke-width="0.8"/>
<rect x="320.73" y="189.20" width="1.6" height="1.6" fill="#383838"/>
<rect x="323.57" y="189.20" width="1.6" height="1.6" fill="#383838"/>
<rect x="326.43" y="189.20" width="1.6" height="1.6" fill="#383838"/>
<rect x="329.27" y="189.20" width="1.6" height="1.6" fill="#383838"/>
<path d="M315.20 240.10V202.60H326.00V204.40" fill="none" stroke="#666" stroke-width="0.8"/>
<rect x="316.95" y="199.20" width="1.6" height="1.6" fill="#383838"/>
<rect x="319.80" y="199.20" width="1.6" height="1.6" fill="#383838"/>
<rect x="322.65" y="199.20" width="1.6" height="1.6" fill="#383838"/>
<path d="M320.60 226.00V212.00H326.00V213.80" fill="none" stroke="#666" stroke-width="0.8"/>
<rect x="322.50" y="208.60" width="1.6" height="1.6" fill="#383838"/>
<line x1="391.00" y1="238.50" x2="391.00" y2="246.00" stroke="#e0121e" stroke-width="0.9" />
<rect x="389.20" y="240.15" width="3.6" height="4.20" fill="white" stroke="#e0121e" stroke-width="0.9"/>
<circle cx="390.30" cy="238.50" r="1.5" fill="white" fill-opacity="0.7" stroke="#e0121e" stroke-width="1.1"/>
<circle cx="391.70" cy="240.50" r="1.5" fill="white" fill-opacity="0.7" stroke="#e0121e" stroke-width="1.1"/>
<circle cx="390.30" cy="242.50" r="1.5" fill="white" fill-opacity="0.7" stroke="#e0121e" stroke-width="1.1"/>
<circle cx="391.70" cy="244.50" r="1.5" fill="white" fill-opacity="0.7" stroke="#e0121e" stroke-width="1.1"/>
<circle cx="390.30" cy="246.00" r="1.5" fill="white" fill-opacity="0.7" stroke="#e0121e" stroke-width="1.1"/>
<line x1="396.40" y1="232.70" x2="396.40" y2="245.60" stroke="#1a1ae0" stroke-width="0.9" />
<rect x="394.60" y="234.00" width="3.6" height="10.00" fill="white" stroke="#1a1ae0" stroke-width="0.9"/>
<circle cx="395.70" cy="232.70" r="1.5" fill="white" fill-opacity="0.7" stroke="#1a1ae0" stroke-width="1.1"/>
<circle cx="397.10" cy="235.00" r="1.5" fill="white" fill-opacity="0.7" stroke="#1a1ae0" stroke-width="1.1"/>
<circle cx="395.70" cy="237.50" r="1.5" fill="white" fill-opacity="0.7" stroke="#1a1ae0" stroke-width="1.1"/>
<circle cx="397.10" cy="240.00" r="1.5" fill="white" fill-opacity="0.7" stroke="#1a1ae0" stroke-width="1.1"/>
<circle cx="395.70" cy="243.00" r="1.5" fill="white" fill-opacity="0.7" stroke="#1a1ae0" stroke-width="1.1"/>
<circle cx="397.10" cy="245.60" r="1.5" fill="white" fill-opacity="0.7" stroke="#1a1ae0" stroke-width="1.1"/>
<line x1="401.80" y1="227.70" x2="401.80" y2="241.00" stroke="#17b06e" stroke-width="0.9" />
<rect x="400.00" y="229.50" width="3.6" height="9.50" fill="white" stroke="#17b06e" stroke-width="0.9"/>
<circle cx="401.10" cy="227.70" r="1.5" fill="white" fill-opacity="0.7" stroke="#17b06e" stroke-width="1.1"/>
<circle cx="402.50" cy="230.00" r="1.5" fill="white" fill-opacity="0.7" stroke="#17b06e" stroke-width="1.1"/>
<circle cx="401.10" cy="237.50" r="1.5" fill="white" fill-opacity="0.7" stroke="#17b06e" stroke-width="1.1"/>
<circle cx="402.50" cy="241.00" r="1.5" fill="white" fill-opacity="0.7" stroke="#17b06e" stroke-width="1.1"/>
<line x1="407.20" y1="202.40" x2="407.20" y2="226.50" stroke="#17b06e" stroke-width="0.9" />
<rect x="405.40" y="204.00" width="3.6" height="20.00" fill="#c6b6f4" stroke="#17b06e" stroke-width="0.9"/>
<circle cx="407.09" cy="202.40" r="1.55" fill="#1a1ae0" stroke="#17b06e" stroke-width="0.8"/>
<circle cx="407.31" cy="207.80" r="1.55" fill="#1a1ae0" stroke="#17b06e" stroke-width="0.8"/>
<circle cx="407.09" cy="218.20" r="1.55" fill="#1a1ae0" stroke="#17b06e" stroke-width="0.8"/>
<circle cx="407.31" cy="224.50" r="1.55" fill="#1a1ae0" stroke="#17b06e" stroke-width="0.8"/>
<circle cx="407.09" cy="226.50" r="1.55" fill="#1a1ae0" stroke="#17b06e" stroke-width="0.8"/>
<line x1="416.90" y1="241.80" x2="416.90" y2="248.00" stroke="#e0121e" stroke-width="0.9" />
<rect x="415.10" y="243.16" width="3.6" height="3.47" fill="white" stroke="#e0121e" stroke-width="0.9"/>
<circle cx="416.20" cy="241.80" r="1.5" fill="white" fill-opacity="0.7" stroke="#e0121e" stroke-width="1.1"/>
<circle cx="417.60" cy="244.00" r="1.5" fill="white" fill-opacity="0.7" stroke="#e0121e" stroke-width="1.1"/>
<circle cx="416.20" cy="246.00" r="1.5" fill="white" fill-opacity="0.7" stroke="#e0121e" stroke-width="1.1"/>
<circle cx="417.60" cy="248.00" r="1.5" fill="white" fill-opacity="0.7" stroke="#e0121e" stroke-width="1.1"/>
<line x1="422.70" y1="238.00" x2="422.70" y2="245.60" stroke="#1a1ae0" stroke-width="0.9" />
<rect x="420.90" y="239.67" width="3.6" height="4.26" fill="white" stroke="#1a1ae0" stroke-width="0.9"/>
<circle cx="422.00" cy="238.00" r="1.5" fill="white" fill-opacity="0.7" stroke="#1a1ae0" stroke-width="1.1"/>
<circle cx="423.40" cy="240.00" r="1.5" fill="white" fill-opacity="0.7" stroke="#1a1ae0" stroke-width="1.1"/>
<circle cx="422.00" cy="242.00" r="1.5" fill="white" fill-opacity="0.7" stroke="#1a1ae0" stroke-width="1.1"/>
<circle cx="423.40" cy="244.00" r="1.5" fill="white" fill-opacity="0.7" stroke="#1a1ae0" stroke-width="1.1"/>
<circle cx="422.00" cy="245.60" r="1.5" fill="white" fill-opacity="0.7" stroke="#1a1ae0" stroke-width="1.1"/>
<line x1="428.20" y1="234.70" x2="428.20" y2="246.00" stroke="#17b06e" stroke-width="0.9" />
<rect x="426.40" y="236.00" width="3.6" height="7.00" fill="white" stroke="#17b06e" stroke-width="0.9"/>
<circle cx="427.50" cy="234.70" r="1.5" fill="white" fill-opacity="0.7" stroke="#17b06e" stroke-width="1.1"/>
<circle cx="428.90" cy="237.00" r="1.5" fill="white" fill-opacity="0.7" stroke="#17b06e" stroke-width="1.1"/>
<circle cx="427.50" cy="239.50" r="1.5" fill="white" fill-opacity="0.7" stroke="#17b06e" stroke-width="1.1"/>
<circle cx="428.90" cy="242.00" r="1.5" fill="white" fill-opacity="0.7" stroke="#17b06e" stroke-width="1.1"/>
<circle cx="427.50" cy="244.00" r="1.5" fill="white" fill-opacity="0.7" stroke="#17b06e" stroke-width="1.1"/>
<circle cx="428.90" cy="246.00" r="1.5" fill="white" fill-opacity="0.7" stroke="#17b06e" stroke-width="1.1"/>
<line x1="433.50" y1="221.70" x2="433.50" y2="233.80" stroke="#17b06e" stroke-width="0.9" />
<rect x="431.70" y="223.00" width="3.6" height="9.00" fill="#c6b6f4" stroke="#17b06e" stroke-width="0.9"/>
<circle cx="433.39" cy="221.70" r="1.55" fill="#1a1ae0" stroke="#17b06e" stroke-width="0.8"/>
<circle cx="433.61" cy="223.80" r="1.55" fill="#1a1ae0" stroke="#17b06e" stroke-width="0.8"/>
<circle cx="433.39" cy="230.90" r="1.55" fill="#1a1ae0" stroke="#17b06e" stroke-width="0.8"/>
<circle cx="433.61" cy="233.80" r="1.55" fill="#1a1ae0" stroke="#17b06e" stroke-width="0.8"/>
<path d="M390.60 176.80V175.00H407.50V182.50" fill="none" stroke="#666" stroke-width="0.8"/>
<rect x="393.98" y="171.60" width="1.6" height="1.6" fill="#383838"/>
<rect x="396.82" y="171.60" width="1.6" height="1.6" fill="#383838"/>
<rect x="399.68" y="171.60" width="1.6" height="1.6" fill="#383838"/>
<rect x="402.52" y="171.60" width="1.6" height="1.6" fill="#383838"/>
<path d="M390.60 183.30V181.50H401.80V183.30" fill="none" stroke="#666" stroke-width="0.8"/>
<rect x="395.40" y="178.10" width="1.6" height="1.6" fill="#383838"/>
<path d="M396.40 191.30V189.50H407.70V191.30" fill="none" stroke="#666" stroke-width="0.8"/>
<rect x="396.97" y="186.10" width="1.6" height="1.6" fill="#383838"/>
<rect x="399.82" y="186.10" width="1.6" height="1.6" fill="#383838"/>
<rect x="402.67" y="186.10" width="1.6" height="1.6" fill="#383838"/>
<rect x="405.52" y="186.10" width="1.6" height="1.6" fill="#383838"/>
<path d="M401.80 222.80V196.80H407.70V198.60" fill="none" stroke="#666" stroke-width="0.8"/>
<rect x="401.10" y="193.40" width="1.6" height="1.6" fill="#383838"/>
<rect x="403.95" y="193.40" width="1.6" height="1.6" fill="#383838"/>
<rect x="406.80" y="193.40" width="1.6" height="1.6" fill="#383838"/>
<path d="M417.30 233.20V202.20H433.50V204.00" fill="none" stroke="#666" stroke-width="0.8"/>
<rect x="421.75" y="198.80" width="1.6" height="1.6" fill="#383838"/>
<rect x="424.60" y="198.80" width="1.6" height="1.6" fill="#383838"/>
<rect x="427.45" y="198.80" width="1.6" height="1.6" fill="#383838"/>
<path d="M422.70 231.30V209.30H433.50V211.10" fill="none" stroke="#666" stroke-width="0.8"/>
<rect x="425.88" y="205.90" width="1.6" height="1.6" fill="#383838"/>
<rect x="428.73" y="205.90" width="1.6" height="1.6" fill="#383838"/>
<path d="M428.20 229.70V216.40H433.50V218.20" fill="none" stroke="#666" stroke-width="0.8"/>
<rect x="430.05" y="213.00" width="1.6" height="1.6" fill="#383838"/>
<rect x="48.60" y="304.7" width="10.7" height="4.6" fill="white" stroke="#e0121e" stroke-width="1.4"/>
<text x="66.80" y="310.20" font-size="9.2" text-anchor="start" class="b" style="stroke-width:0.12px">Isotype Control</text>
<rect x="156.80" y="304.7" width="10.7" height="4.6" fill="white" stroke="#1a1ae0" stroke-width="1.4"/>
<text x="175.00" y="310.20" font-size="9.2" text-anchor="start" class="b" style="stroke-width:0.12px">Anti-PD-1</text>
<rect x="241.00" y="304.7" width="10.7" height="4.6" fill="white" stroke="#17b06e" stroke-width="1.4"/>
<text x="259.20" y="310.20" font-size="9.2" text-anchor="start" class="b" style="stroke-width:0.12px">Anti-TIGIT</text>
<rect x="322.60" y="304.7" width="10.7" height="4.6" fill="#c6b6f4" stroke="#17b06e" stroke-width="1.4"/>
<text x="340.80" y="310.20" font-size="9.2" text-anchor="start" class="b" style="stroke-width:0.12px">Anti-PD-1 + Anti-TIGIT</text>
</svg></body></html>
